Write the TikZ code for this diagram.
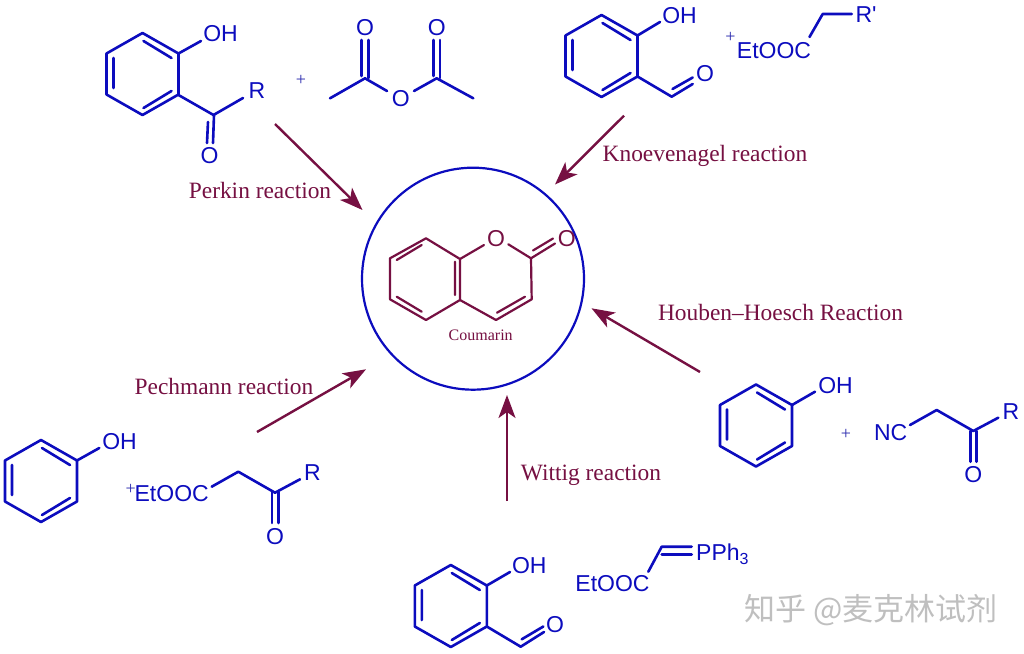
\documentclass[tikz,border=0pt]{standalone}
\usepackage{fontspec}
\setmainfont{Liberation Serif}
\newfontfamily\chemfont{Liberation Sans}
\newfontfamily\cjkfont{Noto Sans CJK SC}
\usetikzlibrary{arrows.meta}
\definecolor{chemblue}{RGB}{12,12,190}
\definecolor{rxnred}{RGB}{118,16,66}
\tikzset{
  bond/.style={draw=chemblue,line width=2.6pt,line cap=round,line join=round},
  cbond/.style={draw=rxnred,line width=2.2pt,line cap=round,line join=round},
  atom/.style={font=\fontsize{23}{25}\selectfont\chemfont,text=chemblue,inner sep=0pt},
  catom/.style={font=\fontsize{23}{25}\selectfont\chemfont,text=rxnred,inner sep=0pt},
  plussign/.style={font=\fontsize{18}{19}\selectfont,text=chemblue!75!gray,inner sep=0pt},
  rxnlabel/.style={font=\fontsize{23.4}{25}\selectfont,text=rxnred,inner sep=0pt},
  rxn/.style={draw=rxnred,line width=2.4pt,-{Stealth[length=23pt,width=17pt,inset=6pt]}},
  hexring/.pic={
    \draw[bond] (0,-41)--(36,-20.5)--(36,20.5)--(0,41)--(-36,20.5)--(-36,-20.5)--cycle;
    \draw[bond] (1,-33)--(29,-16) (-29,-16)--(-29,14) (1,34)--(29,17);
  }
}
\begin{document}
\begin{tikzpicture}[x=1pt,y=-1pt]
\useasboundingbox (0,0) rectangle (1024,653);
\fill[white] (0,0) rectangle (1024,653);

% Perkin reactants
\pic at (142.5,74) {hexring};
\node[atom] (oh1) at (220.5,34) {OH};
\node[atom] (r1) at (257,91) {R};
\node[atom] (o1) at (209.5,156) {O};
\node[plussign] (p1) at (301,80) {+};
\draw[bond] (178.5,53.5)--(201,41);
\draw[bond] (178.5,95)--(213.5,115)--(243,98);
\draw[bond] (214,115)--(213,143) (208,122)--(207,143);
\node[atom] (o2) at (365,27.5) {O};
\node[atom] (o3) at (436.7,27.5) {O};
\node[atom] (o4) at (400.7,99) {O};
\draw[bond] (330,98.3)--(365,78.3)--(387,91);
\draw[bond] (414,91)--(436.7,78.3)--(473.3,98.3);
\draw[bond] (361.7,76)--(361.7,40) (368.3,78)--(368.3,40);
\draw[bond] (433.4,76)--(433.4,40) (440,78)--(440,40);

% Knoevenagel reactants
\pic at (601.5,56) {hexring};
\node[atom] (oh2) at (679.5,15.5) {OH};
\node[atom] (o5) at (705,74) {O};
\node[plussign] (p2) at (730.5,37.5) {+};
\node[atom] (e1) at (774,51) {EtOOC};
\node[atom] (rp) at (866,15) {R'};
\draw[bond] (637.5,35.5)--(660,22);
\draw[bond] (637.5,76.5)--(671.7,96.7)--(692.7,84);
\draw[bond] (672.5,89)--(692.7,77.5);
\draw[bond] (809.5,37)--(822.7,14)--(851.7,14);

% Coumarin
\node[draw=chemblue,line width=2.2pt,circle,minimum size=222pt,inner sep=0pt] (ring) at (473,278.7) {};
\node[catom] (co1) at (496,239) {O};
\node[catom] (co2) at (566.7,239) {O};
\draw[cbond] (460,259)--(426,238.3)--(390,258.3)--(390,299.3)--(426,320)--(460,300)--cycle;
\draw[cbond] (421.7,245)--(396.7,260) (455,261.7)--(455,295) (396.7,296.7)--(421.7,311.7);
\draw[cbond] (460,259)--(484,245);
\draw[cbond] (508.3,244.3)--(531,258.3)--(531.7,299.3)--(496,320)--(460,300);
\draw[cbond] (525,296.7)--(497,312.7);
\draw[cbond] (531,258.3)--(555,243.5) (533,250.5)--(553,238.5);
\node[rxnlabel,font=\fontsize{16}{18}\selectfont] (cname) at (480.7,335) {Coumarin};

% Reaction labels
\node[rxnlabel] (perkin) at (260,190.5) {Perkin reaction};
\node[rxnlabel] (knoev) at (705,155.5) {Knoevenagel reaction};
\node[rxnlabel] (houben) at (780.5,312) {Houben–Hoesch Reaction};
\node[rxnlabel] (pech) at (224,386.5) {Pechmann reaction};
\node[rxnlabel] (wittig) at (591,475.5) {Wittig reaction};

% Reaction arrows
\coordinate (a1s) at (275,124); \coordinate (a1e) at (362.5,210);
\coordinate (a2s) at (624,115.7); \coordinate (a2e) at (555,184.5);
\coordinate (a3s) at (700,372); \coordinate (a3e) at (591.5,308.3);
\coordinate (a4s) at (257,432); \coordinate (a4e) at (366,369.3);
\coordinate (a5s) at (507,501); \coordinate (a5e) at (507,395);
\draw[rxn] (a1s)--(a1e);
\draw[rxn] (a2s)--(a2e);
\draw[rxn] (a3s)--(a3e);
\draw[rxn] (a4s)--(a4e);
\draw[rxn] (a5s)--(a5e);

% Pechmann reactants
\pic at (41,481) {hexring};
\node[atom] (oh3) at (119.5,441.5) {OH};
\draw[bond] (77,460.5)--(99.3,448);
\node[plussign] (p3) at (130.7,489.5) {+};
\node[atom] (e2) at (171.7,494) {EtOOC};
\node[atom] (r2) at (312.5,473) {R};
\node[atom] (o6) at (275,536.7) {O};
\draw[bond] (211.7,486.7)--(238.3,471.7)--(275,492.7)--(300,479.3);
\draw[bond] (272,492)--(272,523) (278.3,492)--(278.3,523);

% Houben-Hoesch reactants
\pic at (756,425.5) {hexring};
\node[atom] (oh4) at (835.5,385.5) {OH};
\draw[bond] (792,405)--(815,391.7);
\node[plussign] (p4) at (846,434.5) {+};
\node[atom] (nc) at (890.7,432.3) {NC};
\node[atom] (r3) at (1011,411.7) {R};
\node[atom] (o7) at (973.3,475) {O};
\draw[bond] (910,425)--(936.7,410)--(973.3,431)--(998.3,417.7);
\draw[bond] (970.5,431)--(970.5,461.7) (976.7,431)--(976.7,461.7);

% Wittig reactants
\pic at (450.8,606) {hexring};
\node[atom] (oh5) at (529.3,566) {OH};
\node[atom] (o8) at (555,625) {O};
\draw[bond] (486.8,585.5)--(510,572);
\draw[bond] (486.8,626.5)--(520.7,646.7)--(544,632);
\draw[bond] (521.7,639.3)--(543.3,626.5);
\node[atom] (e3) at (612.5,583.5) {EtOOC};
\node[atom,anchor=base west] (ph) at (696,560) {PPh{\fontsize{16}{17}\selectfont\raisebox{-4pt}{3}}};
\draw[bond] (648.3,571.7)--(661.7,546.7)--(691.7,546.7);
\draw[bond] (661.7,554.3)--(691.7,554.3);

% Watermark
\node[font=\fontsize{31}{33}\selectfont\cjkfont,text=black!25,inner sep=0pt] (wm) at (871,610) {知乎 @麦克林试剂};
\end{tikzpicture}
\end{document}
